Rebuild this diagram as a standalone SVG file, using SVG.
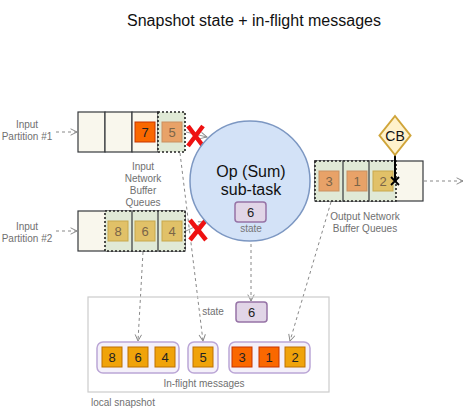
<svg xmlns="http://www.w3.org/2000/svg" width="474" height="413" viewBox="0 0 474 413">
<defs>
<style>
text{font-family:"Liberation Sans",Arial,Helvetica,sans-serif}
.title{font-size:16px;fill:#111}
.lbl{font-size:10px;fill:#707070}
.cell{fill:#f9f7ed;stroke:#36393d;stroke-width:1.2}
.green{fill:#e0e9d6;stroke:#222;stroke-width:1.6;stroke-dasharray:2 2}
.num{font-size:13px;text-anchor:middle;fill:#222}
.fnum{font-size:13px;text-anchor:middle;fill:#7a6548}
.red{fill:#fa6800;stroke:#c73500}
.org{fill:#f0a30a;stroke:#bd7000}
.fsal{fill:#e8a268;stroke:#c99060}
.fyel{fill:#e1c168;stroke:#c7a84c}
.state{fill:#e1d5e7;stroke:#9673a6;stroke-width:1.5}
.grp{fill:#f4f0f9;stroke:#bba6d6;stroke-width:1.5}
.dash{fill:none;stroke:#888;stroke-width:1;stroke-dasharray:3 3}
.thin{fill:none;stroke:#999;stroke-width:1}
.rx{stroke:#ee1111;stroke-width:4.5;stroke-linecap:butt;fill:none}
</style>
<marker id="arr" viewBox="0 0 10 10" refX="9" refY="5" markerWidth="8" markerHeight="8" orient="auto" markerUnits="userSpaceOnUse">
<path d="M1,1 L9,5 L1,9" fill="none" stroke="#888" stroke-width="1.2"/>
</marker>
</defs>
<rect width="474" height="413" fill="#ffffff"/>
<text class="title" x="254" y="26" text-anchor="middle">Snapshot state + in-flight messages</text>

<g id="input1">
<rect class="cell" x="78" y="112" width="27" height="40"/>
<rect class="cell" x="105" y="112" width="27" height="40"/>
<rect class="cell" x="132" y="112" width="26" height="40"/>
<rect class="green" x="158" y="112" width="27" height="40"/>
<rect class="red" x="135" y="122" width="20" height="20"/>
<text class="num" x="145" y="137">7</text>
<rect class="fsal" x="162" y="122" width="20" height="20"/>
<text class="fnum" x="172" y="137">5</text>
<text class="lbl" x="27" y="128" text-anchor="middle">Input</text>
<text class="lbl" x="27" y="140" text-anchor="middle">Partition #1</text>
</g>

<g id="input-label">
<text class="lbl" x="143" y="170" text-anchor="middle">Input</text>
<text class="lbl" x="143" y="182" text-anchor="middle">Network</text>
<text class="lbl" x="143" y="194" text-anchor="middle">Buffer</text>
<text class="lbl" x="143" y="206" text-anchor="middle">Queues</text>
</g>

<g id="input2">
<rect class="cell" x="78" y="211" width="107" height="40"/>
<rect class="green" x="105" y="211" width="80" height="40"/>
<line x1="132" y1="211" x2="132" y2="251" stroke="#36393d" stroke-width="1.2"/>
<line x1="158" y1="211" x2="158" y2="251" stroke="#36393d" stroke-width="1.2"/>
<rect class="fyel" x="108" y="221" width="20" height="20"/>
<text class="fnum" x="118" y="236">8</text>
<rect class="fyel" x="135" y="221" width="20" height="20"/>
<text class="fnum" x="145" y="236">6</text>
<rect class="fyel" x="162" y="221" width="20" height="20"/>
<text class="fnum" x="172" y="236">4</text>
<text class="lbl" x="27" y="230" text-anchor="middle">Input</text>
<text class="lbl" x="27" y="242" text-anchor="middle">Partition #2</text>
</g>

<g id="connectors">
<line class="dash" x1="56" y1="132" x2="77" y2="132" marker-end="url(#arr)"/>
<line class="dash" x1="56" y1="231" x2="77" y2="231" marker-end="url(#arr)"/>
<line class="thin" x1="186" y1="132" x2="207" y2="137" marker-end="url(#arr)"/>
<line class="thin" x1="186" y1="231" x2="205" y2="222" marker-end="url(#arr)"/>
<line class="dash" x1="424" y1="181" x2="463" y2="181" marker-end="url(#arr)"/>
<line class="dash" x1="143" y1="252" x2="138" y2="341" marker-end="url(#arr)"/>
<line class="dash" x1="180" y1="153" x2="203" y2="341" marker-end="url(#arr)"/>
<line class="dash" x1="251" y1="232" x2="251" y2="301" marker-end="url(#arr)"/>
<line class="dash" x1="331" y1="202" x2="290" y2="341" marker-end="url(#arr)"/>
</g>

<g id="redx">
<path class="rx" d="M188,126 L203,146 M203,126 L188,146"/>
<path class="rx" d="M190,220 L206,240 M206,220 L190,240"/>
</g>

<g id="op">
<circle cx="250" cy="181" r="60" fill="#d3e2f7" stroke="#7c97c2" stroke-width="1.5"/>
<text x="251" y="177" text-anchor="middle" font-size="16" fill="#111">Op (Sum)</text>
<text x="251" y="195" text-anchor="middle" font-size="16" fill="#111">sub-task</text>
<rect class="state" x="235" y="202" width="31" height="20" rx="3"/>
<text class="num" x="250.5" y="217">6</text>
<text x="251" y="232" text-anchor="middle" font-size="10" fill="#777">state</text>
</g>

<g id="output">
<rect class="cell" x="315" y="161" width="108" height="40"/>
<rect class="green" x="315" y="161" width="81" height="40"/>
<line x1="343" y1="161" x2="343" y2="201" stroke="#36393d" stroke-width="1.2"/>
<line x1="369" y1="161" x2="369" y2="201" stroke="#36393d" stroke-width="1.2"/>
<rect class="fsal" x="319" y="171" width="20" height="20"/>
<text class="fnum" x="329" y="186">3</text>
<rect class="fsal" x="347" y="171" width="20" height="20"/>
<text class="fnum" x="357" y="186">1</text>
<rect class="fyel" x="373" y="171" width="20" height="20"/>
<text class="fnum" x="383" y="186">2</text>
<text class="lbl" x="365" y="220" text-anchor="middle">Output Network</text>
<text class="lbl" x="365" y="232" text-anchor="middle">Buffer Queues</text>
</g>

<g id="cb">
<line x1="395" y1="155" x2="395" y2="181" stroke="#000" stroke-width="2"/>
<path d="M391,177 L399,185 M399,177 L391,185" stroke="#000" stroke-width="1.8" fill="none"/>
<path d="M395,116 L410.5,135.5 L395,155 L379.5,135.5 Z" fill="#fff2cc" stroke="#d0a53a" stroke-width="2"/>
<text x="395" y="140.5" text-anchor="middle" font-size="14" fill="#111">CB</text>
</g>

<g id="snapshot">
<rect x="88" y="297" width="241" height="95" fill="none" stroke="#cccccc" stroke-width="1.2"/>
<text class="lbl" x="91" y="406">local snapshot</text>
<text class="lbl" x="213" y="315" text-anchor="middle">state</text>
<rect class="state" x="236" y="302" width="31" height="20" rx="3"/>
<text class="num" x="251.5" y="317">6</text>
</g>

<g id="inflight">
<rect class="grp" x="97" y="342" width="82" height="31" rx="6"/>
<rect class="org" x="102" y="347" width="20" height="20"/>
<text class="num" x="112" y="362">8</text>
<rect class="org" x="128" y="347" width="20" height="20"/>
<text class="num" x="138" y="362">6</text>
<rect class="org" x="155" y="347" width="20" height="20"/>
<text class="num" x="165" y="362">4</text>
<rect class="grp" x="188" y="342" width="30" height="31" rx="6"/>
<rect class="org" x="193" y="347" width="20" height="20"/>
<text class="num" x="203" y="362">5</text>
<rect class="grp" x="229" y="342" width="81" height="31" rx="6"/>
<rect class="red" x="232" y="347" width="20" height="20"/>
<text class="num" x="242" y="362">3</text>
<rect class="red" x="259" y="347" width="20" height="20"/>
<text class="num" x="269" y="362">1</text>
<rect class="org" x="285" y="347" width="20" height="20"/>
<text class="num" x="295" y="362">2</text>
<text class="lbl" x="204" y="387" text-anchor="middle">In-flight messages</text>
</g>
</svg>
